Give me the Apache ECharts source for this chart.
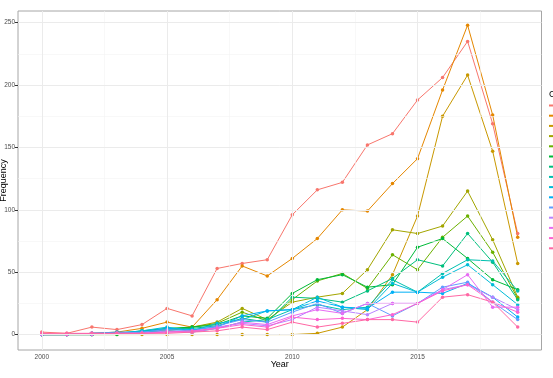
<!DOCTYPE html>
<html>
<head>
<meta charset="utf-8">
<script src="https://cdn.jsdelivr.net/npm/echarts@6/dist/echarts.min.js"></script>
<style>
  html, body { margin: 0; padding: 0; background: #fff; }
  #chart { width: 553px; height: 378px; }
</style>
</head>
<body>
<div id="chart"></div>
<script>
const years = [2000, 2001, 2002, 2003, 2004, 2005, 2006, 2007, 2008, 2009,
  2010, 2011, 2012, 2013, 2014, 2015, 2016, 2017, 2018, 2019]

const groupNames = ['1', '2', '3', '4', '5', '6', '7', '8', '9', '10', '11', '12', '13', '14', '15']

const g1 = [2, 1, 6, 4, 8, 21, 15, 53, 57, 60, 96, 116, 122, 152, 161, 188, 206, 235, 169, 81]
const g2 = [0, 0, 1, 2, 5, 10, 6, 28, 55, 47, 61, 77, 100, 99, 121, 141, 196, 248, 176, 78]
const g3 = [0, 0, 0, 0, 0, 0, 0, 0, 0, 0, 0, 1, 6, 20, 48, 95, 175, 208, 147, 57]
const g4 = [0, 0, 1, 1, 2, 4, 6, 10, 21, 12, 26, 30, 33, 52, 84, 81, 87, 115, 76, 30]
const g5 = [0, 0, 0, 1, 2, 3, 6, 9, 18, 11, 28, 43, 49, 37, 64, 52, 78, 95, 66, 29]
const g6 = [0, 0, 0, 0, 3, 5, 6, 8, 15, 13, 33, 44, 48, 38, 40, 70, 77, 61, 44, 36]
const g7 = [0, 0, 0, 1, 3, 4, 5, 7, 13, 10, 30, 29, 26, 35, 45, 60, 55, 81, 58, 28]
const g8 = [0, 0, 1, 1, 2, 3, 2, 5, 10, 12, 20, 24, 20, 22, 44, 34, 49, 60, 59, 35]
const g9 = [0, 0, 0, 1, 3, 6, 3, 9, 12, 19, 20, 30, 22, 20, 41, 34, 46, 56, 40, 24]
const g10 = [0, 0, 1, 2, 2, 5, 4, 6, 15, 19, 20, 27, 22, 21, 34, 34, 33, 41, 30, 14]
const g11 = [0, 0, 1, 1, 2, 4, 3, 7, 12, 10, 18, 25, 17, 25, 15, 25, 38, 42, 26, 12]
const g12 = [0, 0, 1, 1, 1, 3, 2, 6, 9, 7, 12, 22, 19, 16, 25, 25, 36, 40, 30, 20]
const g13 = [0, 0, 0, 1, 1, 2, 2, 5, 10, 8, 15, 20, 17, 25, 25, 25, 36, 48, 22, 22]
const g14 = [1, 0, 1, 1, 1, 2, 3, 5, 8, 6, 14, 12, 13, 12, 16, 25, 35, 40, 26, 18]
const g15 = [1, 1, 1, 1, 1, 1, 2, 3, 6, 4, 10, 6, 9, 12, 12, 10, 30, 32, 26, 6]
const groups = [g1, g2, g3, g4, g5, g6, g7, g8, g9, g10, g11, g12, g13, g14, g15]

const xTicks = [2000, 2005, 2010, 2015]
const xMinor = [2002.5, 2007.5, 2012.5, 2017.5]
const yTicks = [0, 50, 100, 150, 200, 250]
const yMinor = [25, 75, 125, 175, 225]

// ggplot default hue palette, 15 levels
const palette = ['#F8766D', '#E58700', '#C99800', '#A3A500', '#6BB100', '#00BA38', '#00BF7D',
  '#00C0AF', '#00BCD8', '#00B0F6', '#619CFF', '#B983FF', '#E76BF3', '#FD61D1', '#FF67A4']

const FONT = 'Liberation Sans, Arial, sans-serif'

const chart = echarts.init(document.getElementById('chart'), null, { renderer: 'canvas' })

const gridLines = {
  type: 'line',
  data: [],
  silent: true,
  z: 1,
  markLine: {
    silent: true,
    symbol: 'none',
    label: { show: false },
    animation: false,
    data: [
      ...xMinor.map(v => ({ xAxis: v, lineStyle: { color: '#f4f4f4', width: 0.6, type: 'solid' } })),
      ...yMinor.map(v => ({ yAxis: v, lineStyle: { color: '#f4f4f4', width: 0.6, type: 'solid' } })),
      ...xTicks.map(v => ({ xAxis: v, lineStyle: { color: '#ebebeb', width: 1, type: 'solid' } })),
      ...yTicks.map(v => ({ yAxis: v, lineStyle: { color: '#ebebeb', width: 1, type: 'solid' } })),
    ],
  },
}

const lineSeries = groups.map((vals, i) => ({
  name: groupNames[i],
  type: 'line',
  z: 3,
  data: vals.map((v, j) => [years[j], v]),
  symbol: 'circle',
  symbolSize: 3.5,
  showSymbol: true,
  lineStyle: { width: 1, color: palette[i] },
  itemStyle: { color: palette[i] },
}))

chart.setOption({
  animation: false,
  textStyle: { fontFamily: FONT },
  graphic: [{
    type: 'text',
    x: 549,
    y: 90,
    style: { text: 'Cluster', fontSize: 9, fill: '#000', fontFamily: FONT },
  }],
  legend: {
    orient: 'vertical',
    left: 548,
    top: 102,
    itemWidth: 17,
    itemHeight: 8,
    itemGap: 3.2,
    padding: 0,
    textStyle: { fontSize: 7, color: '#000', fontFamily: FONT },
    data: groupNames,
  },
  grid: {
    left: 18, right: 11.5, top: 11, bottom: 28,
    containLabel: false,
    outerBoundsMode: 'none',
    show: true, borderColor: '#a6a6a6', borderWidth: 1, backgroundColor: '#fff',
  },
  xAxis: {
    type: 'value',
    min: 1999.05,
    max: 2019.95,
    name: 'Year',
    nameLocation: 'middle',
    nameGap: 10,
    nameMoveOverlap: false,
    nameTextStyle: { fontSize: 9, color: '#000', fontFamily: FONT, verticalAlign: 'top' },
    axisLine: { show: false },
    splitLine: { show: false },
    axisTick: { show: true, length: 3, customValues: xTicks, lineStyle: { color: '#333' } },
    axisLabel: { fontSize: 6.5, color: '#4d4d4d', margin: 4, customValues: xTicks, formatter: v => String(v) },
  },
  yAxis: {
    type: 'value',
    min: -12.35,
    max: 259.35,
    name: 'Frequency',
    nameLocation: 'middle',
    nameGap: 10,
    nameMoveOverlap: false,
    nameTextStyle: { fontSize: 9, color: '#000', fontFamily: FONT },
    axisLine: { show: false },
    splitLine: { show: false },
    axisTick: { show: true, length: 3, customValues: yTicks, lineStyle: { color: '#333' } },
    axisLabel: { fontSize: 6.5, color: '#4d4d4d', margin: 3, customValues: yTicks },
  },
  series: [gridLines, ...lineSeries],
})
</script>
</body>
</html>
